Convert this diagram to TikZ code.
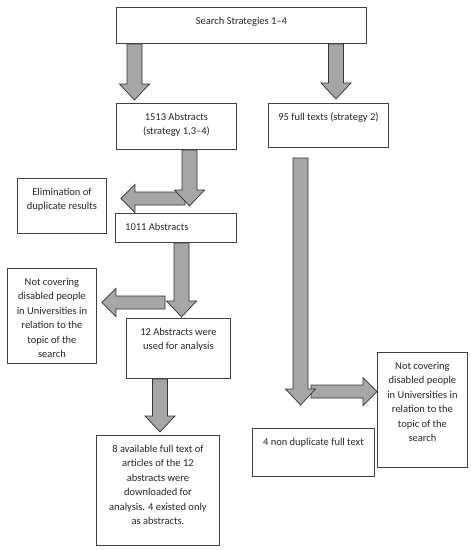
\documentclass[tikz,border=0pt]{standalone}
\usepackage{fontspec}
\setmainfont{Carlito}
\usetikzlibrary{calc}

% block arrow going down: x position, from, to (tip)
\newcommand\vblock[3]{\draw[barrow] let \p1=#2, \p2=#3 in
	({(#1-7.5)*1pt},\y1) -- ({(#1+7.5)*1pt},\y1) -- ({(#1+7.5)*1pt},{\y2+16pt})
	-- ({(#1+15)*1pt},{\y2+16pt}) -- ({#1*1pt},\y2) -- ({(#1-15)*1pt},{\y2+16pt})
	-- ({(#1-7.5)*1pt},{\y2+16pt}) -- cycle;}
% block arrow going sideways: from, to (tip)
\newcommand\hblock[2]{\draw[barrow] let \p1=#1, \p2=#2, \n1={sign(\x1-\x2)} in
	(\x1,{\y1+6.5pt}) -- ({\x2+14pt*\n1},{\y1+6.5pt}) -- ({\x2+14pt*\n1},{\y1+14pt})
	-- (\x2,\y1) -- ({\x2+14pt*\n1},{\y1-14pt}) -- ({\x2+14pt*\n1},{\y1-6.5pt})
	-- (\x1,{\y1-6.5pt}) -- cycle;}

\begin{document}
\begin{tikzpicture}
		[x=1pt,y=-1pt,
		box/.style={rectangle,draw=black!75,line width=0.9pt,inner sep=0pt,anchor=north west},
		lbl/.style={anchor=north,align=center,inner sep=0pt,yshift=-10pt,text=black!85,
			font=\fontsize{10.5}{14.5}\selectfont},
		barrow/.style={fill=black!35,draw=black!80,line width=0.7pt}]

		\useasboundingbox (0,0) rectangle (471,550);

		% boxes
		\node[box,minimum width=250,minimum height=36,
			label={[lbl]north:Search Strategies 1--4}] (search) at (116,7) {};
		\node[box,minimum width=120,minimum height=46,
			label={[lbl]north:1513 Abstracts\\(strategy 1,3--4)}] (a1513) at (116,103) {};
		\node[box,minimum width=120,minimum height=44,
			label={[lbl]north:95 full texts (strategy 2)}] (f95) at (268,103) {};
		\node[box,minimum width=89,minimum height=55,
			label={[lbl]north:Elimination of\\duplicate results}] (elim) at (17,178) {};
		\node[box,minimum width=121,minimum height=29,
			label={[lbl,anchor=north west,xshift=10pt]north west:1011 Abstracts}] (a1011) at (115,213) {};
		\node[box,minimum width=89,minimum height=95,
			label={[lbl]north:Not covering\\disabled people\\in Universities in\\relation to the\\topic of the\\search}] (notL) at (7,268) {};
		\node[box,minimum width=104,minimum height=60,
			label={[lbl]north:12 Abstracts were\\used for analysis}] (a12) at (126,318) {};
		\node[box,minimum width=123,minimum height=110,
			label={[lbl]north:8 available full text of\\articles of the 12\\abstracts were\\downloaded for\\analysis. 4 existed only\\as abstracts.}] (a8) at (96,435) {};
		\node[box,minimum width=90,minimum height=115,
			label={[lbl]north:Not covering\\disabled people\\in Universities in\\relation to the\\topic of the\\search}] (notR) at (377,352) {};
		\node[box,minimum width=122,minimum height=48,
			label={[lbl]north:4 non duplicate full text}] (f4) at (252,428) {};

		% free ends of the side arrows
		\coordinate (elimstart) at (185,198.5);
		\coordinate (notLstart) at (165,302.5);
		\coordinate (notRstart) at (311,391.5);

		% arrows
		\hblock{(elimstart)}{([xshift=14pt]elim.east)}
		\hblock{(notLstart)}{([xshift=5pt]notL.east)}
		\hblock{(notRstart)}{(notR.west)}

		\vblock{134.5}{(search.south)}{([yshift=3pt]a1513.north)}
		\vblock{336}{(search.south)}{([yshift=4pt]f95.north)}
		\vblock{189.5}{(a1513.south)}{([yshift=7pt]a1011.north)}
		\vblock{181.5}{(a1011.south)}{([yshift=1pt]a12.north)}
		\vblock{160}{(a12.south)}{([yshift=3pt]a8.north)}
		\vblock{300.5}{([yshift=-10pt]f95.south)}{([yshift=23pt]f4.north)}

	\end{tikzpicture}
\end{document}
